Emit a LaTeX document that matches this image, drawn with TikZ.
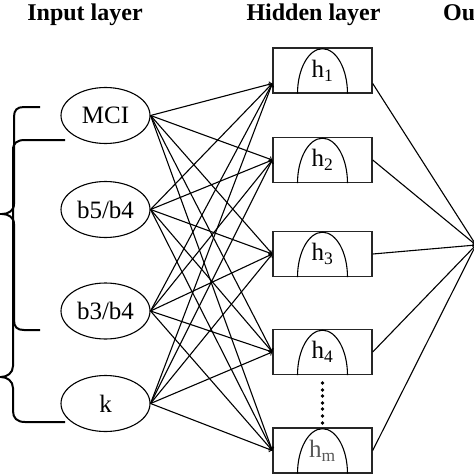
\documentclass[tikz,border=0pt]{standalone}
\usepackage{fontspec}
\setmainfont{Liberation Serif}
\usetikzlibrary{arrows}
\usetikzlibrary{shapes.geometric}
\tikzset{inp/.style = {draw, ellipse, minimum width = 89pt, minimum height = 56pt, inner sep = 0, line width = 1.1pt}}
\tikzset{hid/.style = {draw = black!85, fill = white, rectangle, minimum width = 99pt, minimum height = 45pt, inner sep = 0, line width = 1.4pt}}
\tikzset{conn/.style = {->, line width = 1.1pt}}
\tikzset{brace/.style = {line width = 2pt}}
\tikzset{dotc/.style = {fill, circle, inner sep = 0, minimum size = 3.6pt}}

\begin{document}
\begin{tikzpicture}[x=1pt, y=-1pt, font=\fontsize{25}{29}\selectfont]
\useasboundingbox (0,0) rectangle (474,474);

      % titles
      \node [anchor=base, font=\fontsize{24}{28}\selectfont\bfseries] (tin) at (85, 20) {Input layer};
      \node [anchor=base, font=\fontsize{24}{28}\selectfont\bfseries] (thid) at (313.5, 20) {Hidden layer};
      \node [anchor=base west, inner sep=0, font=\fontsize{24}{28}\selectfont\bfseries] (tout) at (443, 20) {Output layer};

      % input layer
      \node [inp] (MCI) at (105.5, 115.5) {MCI};
      \node [inp] (b54) at (105.5, 209.5) {b5/b4};
      \node [inp] (b34) at (105.5, 311) {b3/b4};
      \node [inp] (k) at (105.5, 403.5) {k};

      % hidden layer
      \node [hid] (h1) at (322.5, 70.5) {h\textsubscript{1}};
      \node [hid] (h2) at (322.5, 160) {h\textsubscript{2}};
      \node [hid] (h3) at (322.5, 254) {h\textsubscript{3}};
      \node [hid] (h4) at (322.5, 352) {h\textsubscript{4}};
      \node [hid] (hm) at (322.5, 450.5) {\color{black!65}h\textsubscript{m}};
      \draw [line width=1.1pt] ([xshift=-25pt]h1.south) arc[start angle=180, end angle=0, x radius=25pt, y radius=45pt];
      \draw [line width=1.1pt] ([xshift=-25pt]h2.south) arc[start angle=180, end angle=0, x radius=25pt, y radius=45pt];
      \draw [line width=1.1pt] ([xshift=-25pt]h3.south) arc[start angle=180, end angle=0, x radius=25pt, y radius=45pt];
      \draw [line width=1.1pt] ([xshift=-25pt]h4.south) arc[start angle=180, end angle=0, x radius=25pt, y radius=45pt];
      \draw [line width=1.1pt] ([xshift=-25pt]hm.south) arc[start angle=180, end angle=0, x radius=25pt, y radius=45pt];
      \foreach \y in {383, 390, 396, 403, 409, 416, 423}
        \node [dotc] (d\y) at (322.5, \y) {};

      % output
      \coordinate (out) at (476, 245);

      % braces
      \draw [brace] (40, 107) -- (24, 107) .. controls (17, 107) and (14, 110) .. (14, 117) -- (14, 204) .. controls (14, 211) and (8, 214) .. (2, 214) .. controls (8, 214) and (14, 217) .. (14, 224) -- (14, 320) .. controls (14, 327) and (17, 330) .. (24, 330) -- (40, 330);
      \draw [brace] (65, 140) -- (25, 140) .. controls (17, 140) and (13, 143) .. (13, 150) -- (13, 366) .. controls (13, 373) and (7, 377) .. (1, 377) .. controls (7, 377) and (13, 381) .. (13, 388) -- (13, 411) .. controls (13, 418) and (17, 422) .. (25, 422) -- (65, 422);

      % input -> hidden
      \draw [conn] (MCI.east) -- ([yshift=-13pt]h1.west);
      \draw [conn] (MCI.east) -- (h2.west);
      \draw [conn] (MCI.east) -- (h3.west);
      \draw [conn] (MCI.east) -- (h4.west);
      \draw [conn] (MCI.east) -- (hm.west);
      \draw [conn] (b54.east) -- ([yshift=-13pt]h1.west);
      \draw [conn] (b54.east) -- (h2.west);
      \draw [conn] (b54.east) -- (h3.west);
      \draw [conn] (b54.east) -- (h4.west);
      \draw [conn] (b54.east) -- (hm.west);
      \draw [conn] (b34.east) -- ([yshift=-13pt]h1.west);
      \draw [conn] (b34.east) -- (h2.west);
      \draw [conn] (b34.east) -- (h3.west);
      \draw [conn] (b34.east) -- (h4.west);
      \draw [conn] (b34.east) -- (hm.west);
      \draw [conn] (k.east) -- ([yshift=-13pt]h1.west);
      \draw [conn] (k.east) -- (h2.west);
      \draw [conn] (k.east) -- (h3.west);
      \draw [conn] (k.east) -- (h4.west);
      \draw [conn] (k.east) -- (hm.west);

      % hidden -> output
      \draw [conn] ([yshift=-13pt]h1.east) -- (out);
      \draw [conn] (h2.east) -- (out);
      \draw [conn] (h3.east) -- (out);
      \draw [conn] (h4.east) -- (out);
      \draw [conn] (hm.east) -- (out);
    \end{tikzpicture}
\end{document}
